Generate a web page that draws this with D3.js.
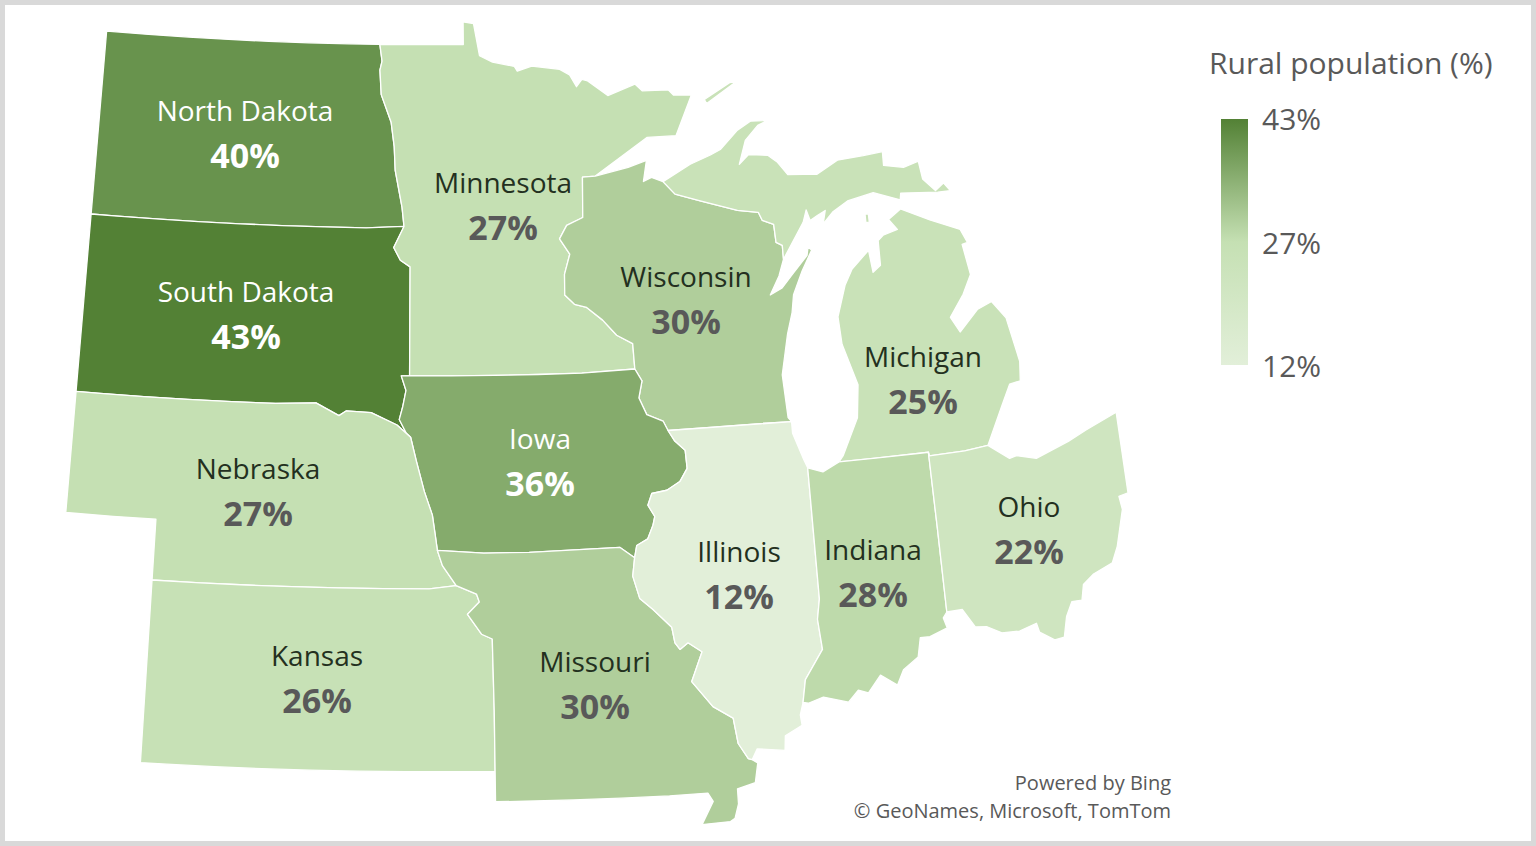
<!DOCTYPE html>
<html>
<head>
<meta charset="utf-8">
<script src="https://cdn.jsdelivr.net/npm/d3@7"></script>
<style>
  html, body { margin: 0; padding: 0; background: #fff; }
  svg { display: block; }
  text { font-family: "Open Sans", sans-serif; }
</style>
</head>
<body>
<svg id="map" width="1536" height="846"></svg>
<script>
// rural population share per state
const stateNames = ['North Dakota', 'South Dakota', 'Minnesota', 'Wisconsin', 'Michigan', 'Iowa', 'Nebraska', 'Kansas', 'Missouri', 'Illinois', 'Indiana', 'Ohio'];
const ruralPct = [40, 43, 27, 30, 25, 36, 27, 26, 30, 12, 28, 22];
const legendTitle = 'Rural population (%)';
const legendStops = [43, 27, 12];
const creditLines = ['Powered by Bing', '© GeoNames, Microsoft, TomTom'];

// borders as [lon, lat], shared between neighbouring states
const ndNorth = [[-104.05,49],[-103,49],[-102,49],[-101,49],[-100,49],[-99,49],[-98,49],[-97.23,49]];
const redRiver = [[-97.23,49],[-97.17,48.72],[-97.22,48.57],[-97.18,48.16],[-96.93,47.7],[-96.85,47.3],[-96.82,46.9],[-96.65,46.29],[-96.6,45.97]];
const ndSouth = [[-96.6,45.97],[-97.5,45.94],[-98.5,45.94],[-99.5,45.94],[-100.5,45.94],[-101.5,45.94],[-102.5,45.94],[-103.5,45.94],[-104.05,45.94]];
const ndWest = [[-104.05,45.94],[-104.05,47.5],[-104.05,49]];
const sdWest = [[-104.05,43],[-104.05,44.5],[-104.05,45.94]];
const sdMn = [[-96.6,45.97],[-96.84,45.62],[-96.68,45.41],[-96.45,45.3],[-96.45,44.4],[-96.45,43.5]];
const bigSioux = [[-96.45,43.5],[-96.64,43.5],[-96.53,43.26],[-96.6,43],[-96.68,42.78],[-96.52,42.56],[-96.42,42.49]];
const neSdRiver = [[-96.42,42.49],[-96.73,42.69],[-97.32,42.89],[-97.89,42.91],[-98.05,42.83],[-98.58,43.03]];
const sd43 = [[-98.58,43.03],[-99.5,43],[-100.5,43],[-101.5,43],[-102.5,43],[-103.5,43],[-104.05,43]];
const neWest = [[-104.05,43],[-104.05,42],[-104.05,41],[-103,41],[-102.05,41],[-102.05,40]];
const ne40 = [[-102.05,40],[-101,40],[-100,40],[-99,40],[-98,40],[-97,40],[-96,40],[-95.41,40.05]];
const neIaRiver = [[-96.42,42.49],[-96.29,42.1],[-96.11,41.6],[-95.93,41.21],[-95.87,40.9],[-95.82,40.63]];
const neMoRiver = [[-95.82,40.63],[-95.71,40.38],[-95.41,40.05]];
const ksMoRiver = [[-95.41,40.05],[-94.97,39.91],[-94.91,39.78],[-95.17,39.58],[-94.87,39.25],[-94.64,39.17]];
const ksMoLine = [[-94.64,39.17],[-94.62,38],[-94.62,37]];
const ks37 = [[-94.62,37],[-95.5,37],[-96.5,37],[-97.5,37],[-98.5,37],[-99.5,37],[-100.5,37],[-101.5,37],[-102.05,37]];
const ksWest = [[-102.05,37],[-102.05,38.5],[-102.05,40]];
const mn435 = [[-96.45,43.5],[-95.5,43.5],[-94.5,43.5],[-93.5,43.5],[-92.5,43.5],[-91.28,43.53]];
const iaNwStub = [[-96.64,43.5],[-96.45,43.5]];
const iaMo = [[-95.82,40.63],[-94.8,40.58],[-93.8,40.58],[-92.8,40.6],[-91.8,40.61],[-91.49,40.43]];
const iaIl = [[-91.49,40.43],[-91.43,40.63],[-91.18,40.73],[-91.05,40.95],[-91,41.09],[-91.14,41.28],[-91.04,41.47],[-90.7,41.51],[-90.4,41.64],[-90.22,41.85],[-90.24,42.15],[-90.46,42.31],[-90.6,42.49]];
const iaWi = [[-90.6,42.49],[-90.7,42.65],[-91.06,42.77],[-91.22,43.05],[-91.13,43.33],[-91.28,43.53]];
const mnWi = [[-91.28,43.53],[-91.3,43.95],[-91.66,44.1],[-91.97,44.36],[-92.33,44.58],[-92.61,44.64],[-92.83,44.8],[-92.82,45.14],[-92.68,45.47],[-92.91,45.73],[-92.73,45.95],[-92.34,46.07],[-92.31,46.74]];
const mnNorth = [[-97.23,49],[-96,49],[-95.15,49],[-95.15,49.38],[-94.89,49.35],[-94.75,48.81],[-94.43,48.7],[-93.89,48.62],[-93.82,48.54],[-93.46,48.62],[-92.77,48.55],[-92.53,48.45],[-92.37,48.25],[-92.23,48.37],[-92.09,48.34],[-91.61,48.08],[-90.93,48.25],[-90.76,48.13],[-90.12,48.12],[-90,48.03],[-89.56,48.01]];
const mnShore = [[-89.56,48.01],[-90,47.35],[-90.7,47.35],[-92,46.75],[-92.31,46.74]];
const wiShore = [[-92.31,46.74],[-92,46.75],[-91.2,46.87],[-90.75,46.97],[-90.85,46.62],[-90.65,46.68],[-90.38,46.6]];
const wiMi = [[-90.38,46.6],[-90.11,46.38],[-89.52,46.24],[-88.65,46.04],[-88.16,45.98],[-88.08,45.84],[-87.82,45.76],[-87.8,45.46],[-87.66,45.4],[-87.66,45.17]];
const wiLake = [[-87.66,45.17],[-87.8,44.9],[-88.04,44.6],[-87.75,44.7],[-87.48,44.91],[-87.1,45.2],[-87.06,45.33],[-86.98,45.28],[-87.25,44.95],[-87.5,44.57],[-87.57,44.28],[-87.72,43.93],[-87.92,43.27],[-87.87,42.56],[-87.8,42.49]];
const wiIl = [[-87.8,42.49],[-88.5,42.5],[-89.5,42.5],[-90.6,42.49]];
const ilLake = [[-87.8,42.49],[-87.8,42.3],[-87.6,41.85],[-87.53,41.71]];
const ilIn = [[-87.53,41.71],[-87.53,40.5],[-87.53,39.55],[-87.61,39.22],[-87.56,38.72],[-87.98,38.25],[-88.07,37.88]];
const ilOhioRiver = [[-88.07,37.88],[-88.15,37.68],[-88.13,37.51],[-88.5,37.36],[-88.53,37.12],[-89.11,37.18],[-89.23,37.01]];
const ilMo = [[-89.23,37.01],[-89.31,37.03],[-89.5,37.29],[-89.57,37.71],[-89.98,37.92],[-90.4,38.35],[-90.14,38.83],[-90.43,38.99],[-90.61,38.89],[-90.71,39],[-90.76,39.26],[-91.15,39.57],[-91.42,39.76],[-91.55,40.13],[-91.49,40.43]];
const moSouth = [[-89.23,37.01],[-89.12,36.95],[-89.2,36.63],[-89.58,36.55],[-89.58,36.3],[-89.67,36.07],[-89.77,36.02],[-90.36,36],[-90.1,36.37],[-90.2,36.51],[-91,36.5],[-92,36.5],[-93,36.5],[-94,36.5],[-94.62,36.5],[-94.62,37]];
const inLake = [[-87.53,41.71],[-87.2,41.62],[-86.82,41.76]];
const inMi = [[-86.82,41.76],[-86,41.76],[-85,41.76],[-84.81,41.76]];
const inOh = [[-84.81,41.76],[-84.81,40.5],[-84.82,39.12]];
const inOhioRiver = [[-84.82,39.12],[-84.91,39.03],[-84.85,38.86],[-85.24,38.75],[-85.45,38.75],[-85.54,38.44],[-85.88,38.26],[-86.04,38.02],[-86.38,38.21],[-86.67,37.94],[-86.88,38],[-87.11,37.82],[-87.63,37.94],[-87.96,37.86],[-88.07,37.88]];
const miOh = [[-84.81,41.76],[-84.8,41.7],[-84,41.71],[-83.47,41.75]];
const ohLake = [[-83.47,41.75],[-83.03,41.49],[-82.87,41.52],[-82.44,41.43],[-81.68,41.63],[-81.25,41.77],[-80.52,41.98]];
const ohEast = [[-80.52,41.98],[-80.55,40.64],[-80.76,40.61],[-80.73,40.39],[-80.97,39.8],[-81.13,39.55],[-81.58,39.41],[-81.82,39.27],[-81.9,39.02],[-82.12,39.02],[-82.28,38.79],[-82.39,38.46],[-82.6,38.44],[-82.9,38.6],[-82.94,38.75],[-83.32,38.66],[-83.7,38.67],[-84,38.8],[-84.25,38.82],[-84.48,39.13],[-84.82,39.12]];
const lpCoast = [[-86.82,41.76],[-86.71,41.86],[-86.31,42.45],[-86.22,42.99],[-86.49,43.68],[-86.52,44.14],[-86.28,44.65],[-86.08,44.9],[-85.65,45.18],[-85.6,44.81],[-85.41,44.91],[-85.4,45.32],[-85.27,45.4],[-84.92,45.47],[-85.1,45.65],[-84.79,45.8],[-84.13,45.56],[-83.45,45.34],[-83.32,45.11],[-83.45,45.09],[-83.35,44.58],[-83.58,44.27],[-83.94,43.92],[-83.76,43.66],[-83.3,43.99],[-82.95,44.09],[-82.67,43.79],[-82.5,43.05],[-82.55,42.73],[-82.8,42.7],[-83.03,42.38],[-83.47,41.75]];
const upCoast = [[-90.38,46.6],[-89.7,46.86],[-89.2,46.99],[-88.95,47.07],[-88.5,47.37],[-88.17,47.5],[-87.75,47.49],[-88,47.42],[-88.33,47.19],[-88.52,46.8],[-88.28,46.95],[-87.82,46.91],[-87.6,46.78],[-87.38,46.56],[-87,46.54],[-86.68,46.52],[-86.16,46.72],[-85.53,46.75],[-85.06,46.78],[-85.07,46.55],[-84.6,46.48],[-84.23,46.55],[-84.18,46.25],[-83.91,46.03],[-83.7,46.14],[-83.56,46],[-83.86,46],[-84.74,46.06],[-84.77,45.95],[-85.39,46.12],[-86.02,46.03],[-86.4,45.87],[-86.65,45.69],[-86.57,45.91],[-86.77,45.84],[-86.95,45.77],[-87.02,45.95],[-87.12,45.75],[-87.66,45.17]];
const isleRoyale = [[-89.2,47.85],[-88.45,48.17],[-88.6,48.17],[-89.25,47.92],[-89.2,47.85]];
const beaverIsland = [[-85.64,45.64],[-85.56,45.64],[-85.56,45.78],[-85.64,45.78],[-85.64,45.64]];

// a ring is made by joining borders end to end, rev() walks a border backwards
const rev = b => b.slice().reverse();
const ring = (...parts) => parts.flat();

const stateRings = {
  'North Dakota': [ring(ndNorth, redRiver, ndSouth, ndWest)],
  'South Dakota': [ring(rev(ndSouth), sdMn, bigSioux, neSdRiver, sd43, sdWest)],
  'Minnesota': [ring(mnNorth, mnShore, rev(mnWi), rev(mn435), rev(sdMn), rev(redRiver))],
  'Wisconsin': [ring(wiShore, wiMi, wiLake, wiIl, iaWi, mnWi)],
  'Michigan': [ring(upCoast, rev(wiMi)), ring(lpCoast, rev(miOh), rev(inMi)), isleRoyale, beaverIsland],
  'Iowa': [ring(iaNwStub, mn435, rev(iaWi), rev(iaIl), rev(iaMo), rev(neIaRiver), rev(bigSioux).slice(0, -1))],
  'Nebraska': [ring(rev(sd43), rev(neSdRiver), neIaRiver, neMoRiver, rev(ne40), rev(neWest))],
  'Kansas': [ring(ne40, ksMoRiver, ksMoLine, ks37, ksWest)],
  'Missouri': [ring(iaMo, rev(ilMo), moSouth, rev(ksMoLine), rev(ksMoRiver), rev(neMoRiver))],
  'Illinois': [ring(rev(wiIl), rev(iaIl), rev(ilMo), rev(ilOhioRiver), rev(ilIn), rev(ilLake))],
  'Indiana': [ring(inLake, inMi, inOh, inOhioRiver, rev(ilIn))],
  'Ohio': [ring(miOh, ohLake, ohEast, rev(inOh))]
};

// label centre and baselines, pixels
const labelSpots = {
  'North Dakota': [245, 121], 'South Dakota': [246, 302], 'Minnesota': [503, 193],
  'Wisconsin': [686, 287], 'Michigan': [923, 367], 'Iowa': [540, 449],
  'Nebraska': [258, 479], 'Kansas': [317, 666], 'Missouri': [595, 672],
  'Illinois': [739, 562], 'Indiana': [873, 560], 'Ohio': [1029, 517]
};
const whiteLabels = ['North Dakota', 'South Dakota', 'Iowa'];

const svg = d3.select('#map');

// frame
svg.append('rect')
  .attr('x', 2.5).attr('y', 2.5)
  .attr('width', 1531).attr('height', 841)
  .attr('fill', '#fff')
  .attr('stroke', '#d9d9d9')
  .attr('stroke-width', 5);

const projection = d3.geoAlbers().scale(3460).translate([401.2, 668]);
const path = d3.geoPath(projection);

const color = d3.scaleLinear()
  .domain([12, 27, 43])
  .range(['#e2efd9', '#c5e0b3', '#538135']);

// d3 wants clockwise rings, flip any that came out the other way round
const toFeature = (name, i) => {
  const polys = stateRings[name].map(r => {
    const poly = { type: 'Polygon', coordinates: [r] };
    if (d3.geoArea(poly) > 2 * Math.PI) poly.coordinates = [rev(r)];
    return poly.coordinates;
  });
  return { type: 'Feature', properties: { name, pct: ruralPct[i] },
    geometry: { type: 'MultiPolygon', coordinates: polys } };
};
const features = stateNames.map(toFeature);

svg.append('g')
  .selectAll('path')
  .data(features)
  .enter()
  .append('path')
  .attr('d', path)
  .attr('fill', d => color(d.properties.pct))
  .attr('stroke', '#fff')
  .attr('stroke-width', 1.3)
  .attr('stroke-linejoin', 'round');

// state labels
const labels = svg.append('g')
  .selectAll('g')
  .data(features)
  .enter()
  .append('g')
  .attr('transform', d => 'translate(' + labelSpots[d.properties.name] + ')')
  .attr('text-anchor', 'middle');

labels.append('text')
  .attr('font-size', 28)
  .attr('fill', d => whiteLabels.includes(d.properties.name) ? '#fff' : '#233020')
  .text(d => d.properties.name);

labels.append('text')
  .attr('y', 47)
  .attr('font-size', 34)
  .attr('font-weight', 700)
  .attr('fill', d => whiteLabels.includes(d.properties.name) ? '#fff' : '#595959')
  .text(d => d.properties.pct + '%');

// legend
const defs = svg.append('defs');
const grad = defs.append('linearGradient')
  .attr('id', 'legendGrad')
  .attr('x1', 0).attr('y1', 0).attr('x2', 0).attr('y2', 1);
legendStops.forEach((v, i) => {
  grad.append('stop')
    .attr('offset', i / (legendStops.length - 1))
    .attr('stop-color', color(v));
});

const legendY = d3.scalePoint().domain(legendStops).range([119, 366]);

svg.append('rect')
  .attr('x', 1221).attr('y', 119)
  .attr('width', 27).attr('height', 246)
  .attr('fill', 'url(#legendGrad)');

const legendAxis = svg.append('g')
  .attr('transform', 'translate(1248,1)')
  .call(d3.axisRight(legendY).tickSize(0).tickPadding(14).tickFormat(d => d + '%'));
legendAxis.select('.domain').remove();
legendAxis.selectAll('text')
  .attr('font-size', 30)
  .attr('font-family', '"Open Sans", sans-serif')
  .attr('fill', '#595959');

svg.append('text')
  .attr('x', 1209).attr('y', 74)
  .attr('font-size', 30)
  .attr('fill', '#595959')
  .text(legendTitle);

// credit
svg.append('g')
  .selectAll('text')
  .data(creditLines)
  .enter()
  .append('text')
  .attr('x', 1171)
  .attr('y', (d, i) => 790 + i * 28)
  .attr('text-anchor', 'end')
  .attr('font-size', 20)
  .attr('fill', '#595959')
  .text(d => d);
</script>
</body>
</html>
